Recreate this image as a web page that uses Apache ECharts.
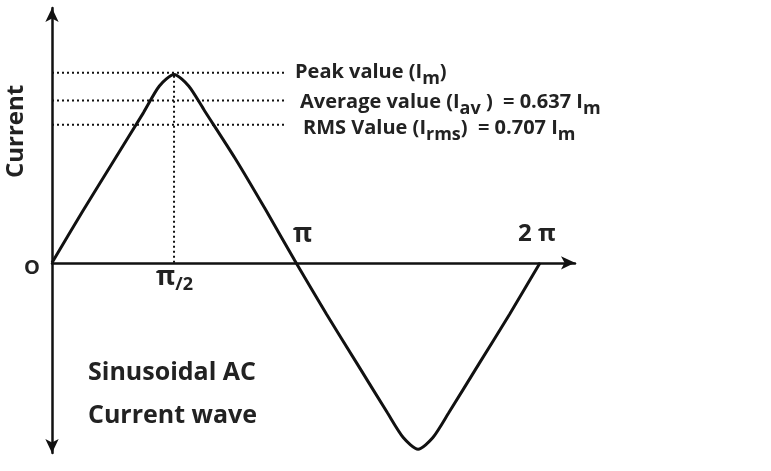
<!DOCTYPE html>
<html><head><meta charset="utf-8">
<script src="https://cdn.jsdelivr.net/npm/echarts@6/dist/echarts.min.js"></script>
<style>html,body{margin:0;padding:0;background:#fff}#c{width:771px;height:471px}</style>
</head><body><div id="c"></div>
<script>
// x in units of π, y in units of Im (wave as drawn: nearly triangular)
const waveX = [0,0.125,0.25,0.375,0.44,0.5,0.56,0.625,0.75,0.875,1,1.125,1.25,1.375,1.44,1.5,1.56,1.625,1.75,1.875,2];
const waveY = [0,0.27,0.53,0.79,0.93,0.99,0.93,0.8,0.55,0.28,0,-0.27,-0.53,-0.79,-0.92,-0.98,-0.92,-0.79,-0.53,-0.27,0];
const levelNames = ['peak','average','rms'];
const levelY = [1, 0.853, 0.726];
const levelEndX = 0.955;
const tickLabels = ['O','π/2','π','2π'];
const textColor = '#222';
const font = 'Open Sans';

const chart = echarts.init(document.getElementById('c'));
const series = [{
  type:'line', smooth:0.25, symbol:'none',
  data: waveX.map((x,i)=>[x,waveY[i]]),
  lineStyle:{color:'#111',width:3}
}];
levelY.forEach((y,i)=>series.push({
  type:'line', name:levelNames[i], symbol:'none', silent:true,
  data:[[0,y],[levelEndX,y]],
  lineStyle:{color:'#111',width:2,type:[2,3]}
}));
series.push({type:'line',symbol:'none',data:[[0.5,0],[0.5,1]],lineStyle:{color:'#111',width:2,type:[2,3]}});

const rich = {s:{fontSize:18,fontWeight:'bold',fontFamily:font,color:textColor,padding:[14,0,0,0]}};
const T = (x,y,text,size,extra)=>Object.assign({type:'text',x,y,style:{text,fontSize:size,fontWeight:'bold',fontFamily:font,fill:textColor,rich}},extra||{});

chart.setOption({
  animation:false,
  grid:{left:52,top:8,width:523,bottom:18},
  xAxis:{type:'value',min:0,max:2.143,
    axisLine:{onZero:true,lineStyle:{color:'#111',width:2.5},symbol:['none','arrow'],symbolSize:[10,14]},
    axisTick:{show:false},axisLabel:{show:false},splitLine:{show:false}},
  yAxis:{type:'value',min:-1.0,max:1.34,
    axisLine:{lineStyle:{color:'#111',width:2.5},symbol:['arrow','arrow'],symbolSize:[10,14]},
    axisTick:{show:false},axisLabel:{show:false},splitLine:{show:false}},
  series,
  graphic:[
    T(4,178,'Current',24,{rotation:Math.PI/2}),
    T(24,258,tickLabels[0],20),
    T(156,262,'π{s|/2}',26),
    T(293,222,tickLabels[2],26),
    T(518,222,'2 π',24),
    T(295,56,'Peak value (I{s|m})',20),
    T(300,86,'Average value (I{s|av} )  = 0.637 I{s|m}',20),
    T(303,112,'RMS Value (I{s|rms})  = 0.707 I{s|m}',20),
    T(88,360,'Sinusoidal AC',25),
    T(88,403,'Current wave',25)
  ]
});
</script></body></html>
